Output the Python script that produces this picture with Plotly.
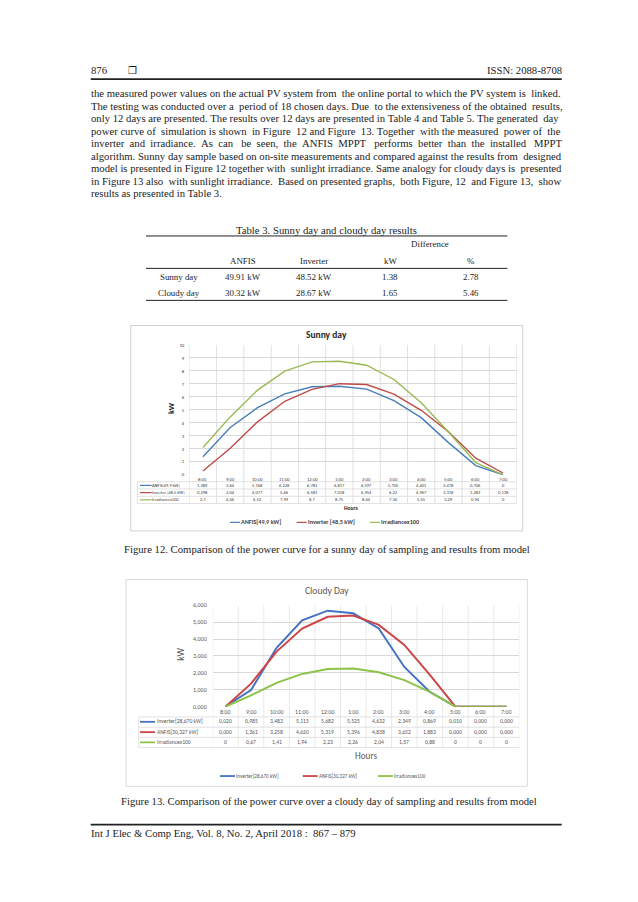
import plotly.graph_objects as go

# The page is shown inside the browser's default 8px body margin, so the figure
# covers page pixels 8..630 (x) and 8..894 (y) of the 638x902 window.
OFF = 8
W, H = 638 - 2 * OFF, 902 - 2 * OFF


def X(px):
    return (px - OFF) / W


def Y(py):
    return 1 - (py - OFF) / H


# ---------------- data ----------------
hours = ["8:00", "9:00", "10:00", "11:00", "12:00", "1:00",
         "2:00", "3:00", "4:00", "5:00", "6:00", "7:00"]

sunny_names = ["ANFIS[49,9 kW]", "Inverter [48,5 kW]", "Irradiancex100"]
sunny_anfis = [1.389, 3.64, 5.168, 6.228, 6.781, 6.817, 6.597, 5.705, 4.401, 2.478, 0.706, 0]
sunny_inverter = [0.298, 2.04, 4.077, 5.66, 6.581, 7.018, 6.954, 6.22, 4.967, 3.318, 1.282, 0.138]
sunny_irradiance = [2.1, 4.46, 6.52, 7.99, 8.7, 8.75, 8.44, 7.34, 5.55, 3.29, 0.94, 0]

cloudy_names = ["Inverter[28,670 kW]", "ANFIS[30,327 kW]", "Irradiancex100"]
cloudy_inverter = [0.020, 0.985, 3.483, 5.115, 5.682, 5.525, 4.632, 2.349, 0.869, 0.010, 0.000, 0.000]
cloudy_anfis = [0.000, 1.361, 3.258, 4.620, 5.319, 5.396, 4.838, 3.652, 1.883, 0.000, 0.000, 0.000]
cloudy_irradiance = [0, 0.67, 1.41, 1.94, 2.23, 2.26, 2.04, 1.57, 0.88, 0, 0, 0]

table_title = "Table 3. Sunny day and cloudy day results"
table_headers = ["ANFIS", "Inverter", "kW", "%"]
table_row_labels = ["Sunny day", "Cloudy day"]
table_anfis_kw = [49.91, 30.32]
table_inverter_kw = [48.52, 28.67]
table_diff_kw = [1.38, 1.65]
table_diff_pct = [2.78, 5.46]

paragraph_lines = [
    "the measured power values on the actual PV system from the online portal to which the PV system is linked.",
    "The testing was conducted over a period of 18 chosen days. Due to the extensiveness of the obtained results,",
    "only 12 days are presented. The results over 12 days are presented in Table 4 and Table 5. The generated day",
    "power curve of simulation is shown in Figure 12 and Figure 13. Together with the measured power of the",
    "inverter and irradiance. As can be seen, the ANFIS MPPT performs better than the installed MPPT",
    "algorithm. Sunny day sample based on on-site measurements and compared against the results from designed",
    "model is presented in Figure 12 together with sunlight irradiance. Same analogy for cloudy days is presented",
    "in Figure 13 also with sunlight irradiance. Based on presented graphs, both Figure, 12 and Figure 13, show",
    "results as presented in Table 3.",
]
caption12 = "Figure 12. Comparison of the power curve for a sunny day of sampling and results from model"
caption13 = "Figure 13. Comparison of the power curve over a cloudy day of sampling and results from model"
header_left = "876"
header_right = "ISSN: 2088-8708"
footer_text = "Int J Elec & Comp Eng, Vol. 8, No. 2, April 2018 :\u00a0 867 \u2013 879"

# ---------------- styles ----------------
SERIF = "Liberation Serif, 'Times New Roman', serif"
SANS = "Carlito, Calibri, Lato, 'Open Sans', sans-serif"
BODY = 10.7
INK = "#1c1c1c"
sunny_colors = ["#4A7EBB", "#BE4B48", "#98B954"]
cloudy_colors = ["#4472C4", "#CC4548", "#8DC349"]

# Times New Roman advance widths (1/1000 em) for justification
TW = {" ": 250, "!": 333, ",": 250, "-": 333, ".": 250, ":": 278, ";": 278, "%": 833,
      "(": 333, ")": 333, "&": 778}
for c in "0123456789":
    TW[c] = 500
TW.update(dict(zip("ABCDEFGHIJKLMNOPQRSTUVWXYZ",
                   [722, 667, 667, 722, 611, 556, 722, 722, 333, 389, 722, 611, 889,
                    722, 722, 556, 722, 667, 556, 611, 722, 722, 944, 722, 722, 611])))
TW.update(dict(zip("abcdefghijklmnopqrstuvwxyz",
                   [444, 500, 444, 500, 444, 333, 500, 500, 278, 278, 500, 278, 778,
                    500, 500, 500, 500, 333, 389, 278, 500, 500, 722, 500, 500, 444])))


def text_w(s, size):
    return sum(TW.get(c, 500) for c in s) / 1000 * size


def justify(line, target, size):
    words = line.split(" ")
    gaps = len(words) - 1
    nat = text_w(line, size)
    extra = max(0, round((target - nat) / (0.25 * size)))
    out = words[0]
    for i, w in enumerate(words[1:]):
        n = 1 + (extra * (i + 1)) // gaps - (extra * i) // gaps
        out += "\u00a0" * n + w
    return out


annotations = []
shapes = []


def txt(text, x, y, size, color=INK, family=SERIF, xanchor="center", angle=0, xref="paper"):
    annotations.append(dict(text=text, x=(X(x) if xref == "paper" else x), y=Y(y),
                            xref=xref, yref="paper", xanchor=xanchor, yanchor="middle",
                            showarrow=False, textangle=angle, borderpad=0, borderwidth=0,
                            font=dict(family=family, size=size, color=color)))


def hline(x0, x1, y, color="#000000", width=1.0):
    shapes.append(dict(type="line", xref="paper", yref="paper", x0=X(x0), x1=X(x1),
                       y0=Y(y), y1=Y(y), line=dict(color=color, width=width), layer="above"))


def vline(x, y0, y1, color, width=1.0, xref="paper"):
    shapes.append(dict(type="line", xref=xref, yref="paper",
                       x0=(X(x) if xref == "paper" else x), x1=(X(x) if xref == "paper" else x),
                       y0=Y(y0), y1=Y(y1), line=dict(color=color, width=width), layer="below"))


def rect(x0, y0, x1, y1, color):
    shapes.append(dict(type="rect", xref="paper", yref="paper", x0=X(x0), x1=X(x1),
                       y0=Y(y1), y1=Y(y0), line=dict(color=color, width=1), layer="below"))


# ---------------- page text ----------------
LEFT, RIGHT = 90.7, 561.7
txt(header_left, LEFT, 66.7, BODY, xanchor="left")
txt("\u2750", 132, 66.7, 10, family="DejaVu Sans")
txt(header_right, RIGHT, 66.7, BODY, xanchor="right")
hline(LEFT, RIGHT, 75.7, color="#222222", width=1.6)

for i, line in enumerate(paragraph_lines):
    s = line if i == len(paragraph_lines) - 1 else justify(line, RIGHT - LEFT, BODY)
    txt(s, LEFT, 90 + 12.62 * i, BODY, xanchor="left")

# Table 3
txt(table_title, 326, 227.7, BODY)
hline(146, 507.3, 234, color="#222222", width=1.0)
hline(146, 507.3, 266.7, color="#222222", width=1.0)
hline(146, 507.3, 299, color="#222222", width=1.0)
TS = 8.9
col_x = [242.7, 314.3, 390, 470.7]
txt("Difference", 430, 242.3, TS)
for cx, h in zip(col_x, table_headers):
    txt(h, cx, 259, TS)
for r, ry in enumerate([275, 291.7]):
    txt(table_row_labels[r], 179, ry, TS)
    txt(f"{table_anfis_kw[r]:.2f} kW", col_x[0], ry, TS)
    txt(f"{table_inverter_kw[r]:.2f} kW", col_x[1], ry, TS)
    txt(f"{table_diff_kw[r]:.2f}", col_x[2], ry, TS)
    txt(f"{table_diff_pct[r]:.2f}", col_x[3], ry, TS)

txt(caption12, 326.7, 550, BODY)
txt(caption13, 329, 804.3, BODY)

hline(LEFT, RIGHT, 828, color="#222222", width=1.6)
txt(footer_text, LEFT, 836.5, BODY, xanchor="left")


def fmt_g(v):
    return f"{v:g}".replace(".", ",")


def fmt_3(v):
    return f"{v:.3f}".replace(".", ",")


# ---------------- chart 1: sunny day ----------------
S = dict(left=189.3, top=344, right=516.7, bottom=475)
rect(130.7, 324.3, 522.7, 531.7, "#D0D0D0")
txt("<b>Sunny day</b>", 326, 334, 9.5, color="#262626", family=SANS)
txt("<b>kW</b>", 171.7, 408, 8, color="#262626", family=SANS, angle=-90)
txt("<b>Hours</b>", 351, 509.5, 5.6, color="#262626", family=SANS)
s_rows = [485.7, 493.0, 500.3]
s_lines = [482, 489.3, 496.7, 504]
GRID = "#D9D9D9"
for ly in s_lines:
    hline(137.3, S["right"], ly, color=GRID, width=0.8)
vline(137.3, 482, 504, GRID, 0.8)
for i in range(len(hours) + 1):
    vline(i - 0.5, S["top"], 504, GRID, 0.8, xref="x")
for i, h in enumerate(hours):
    txt(h, h, 479.3, 4.6, color="#404040", family=SANS, xref="x")
sunny_series = [sunny_anfis, sunny_inverter, sunny_irradiance]
for k, (name, vals) in enumerate(zip(sunny_names, sunny_series)):
    ry = s_rows[k]
    shapes.append(dict(type="line", xref="paper", yref="paper", x0=X(140), x1=X(151.7),
                       y0=Y(ry), y1=Y(ry), line=dict(color=sunny_colors[k], width=1.2)))
    txt(name, 152.3, ry, 4.4, color="#404040", family=SANS, xanchor="left")
    for i, v in enumerate(vals):
        txt(fmt_g(v), hours[i], ry, 4.5, color="#404040", family=SANS, xref="x")
# legend
s_leg_keys = [230, 296.7, 370]
for k, kx in enumerate(s_leg_keys):
    shapes.append(dict(type="line", xref="paper", yref="paper", x0=X(kx), x1=X(kx + 10),
                       y0=Y(523), y1=Y(523), line=dict(color=sunny_colors[k], width=1.2)))
    txt("<b>" + sunny_names[k] + "</b>", kx + 11, 523, 6.2, color="#404040", family=SANS, xanchor="left")

# ---------------- chart 2: cloudy day ----------------
C = dict(left=212.7, top=606.7, right=519.3, bottom=709)
rect(126, 580.7, 527.3, 789.3, "#D9D9D9")
txt("Cloudy Day", 326.7, 592.3, 9.6, color="#595959", family=SANS)
txt("kW", 181, 656.7, 9.5, color="#595959", family=SANS, angle=-90)
txt("Hours", 366, 758.3, 9.2, color="#595959", family=SANS)
c_rows = [724.3, 734.7, 745.0]
c_lines = [719.3, 729.7, 740, 750.3]
for ly in c_lines:
    hline(138.7, C["right"], ly, color=GRID, width=0.8)
vline(138.7, 719.3, 750.3, GRID, 0.8)
for i in range(len(hours) + 1):
    vline(i - 0.5, C["top"], 750.3, "#E2E2E2", 0.8, xref="x2")
for i, h in enumerate(hours):
    txt(h, h, 714, 5.9, color="#595959", family=SANS, xref="x2")
cloudy_series = [cloudy_inverter, cloudy_anfis, cloudy_irradiance]
cloudy_fmt = [fmt_3, fmt_3, fmt_g]
for k, (name, vals) in enumerate(zip(cloudy_names, cloudy_series)):
    ry = c_rows[k]
    shapes.append(dict(type="line", xref="paper", yref="paper", x0=X(140), x1=X(155),
                       y0=Y(ry), y1=Y(ry), line=dict(color=cloudy_colors[k], width=1.8)))
    txt(name, 156.5, ry, 5.6, color="#595959", family=SANS, xanchor="left")
    for i, v in enumerate(vals):
        txt(cloudy_fmt[k](v), hours[i], ry, 5.6, color="#595959", family=SANS, xref="x2")
c_leg_keys = [220, 302.7, 378]
for k, kx in enumerate(c_leg_keys):
    shapes.append(dict(type="line", xref="paper", yref="paper", x0=X(kx), x1=X(kx + 15),
                       y0=Y(779), y1=Y(779), line=dict(color=cloudy_colors[k], width=1.8)))
    txt(cloudy_names[k], kx + 16, 779, 5.2, color="#595959", family=SANS, xanchor="left")

# ---------------- traces ----------------
fig = go.Figure()
for k, (name, vals) in enumerate(zip(sunny_names, sunny_series)):
    fig.add_trace(go.Scatter(x=hours, y=vals, name=name, mode="lines",
                             line=dict(color=sunny_colors[k], width=1.4),
                             xaxis="x", yaxis="y", showlegend=False))
for k, (name, vals) in enumerate(zip(cloudy_names, cloudy_series)):
    fig.add_trace(go.Scatter(x=hours, y=vals, name=name, mode="lines",
                             line=dict(color=cloudy_colors[k], width=2.0),
                             xaxis="x2", yaxis="y2", showlegend=False))

fig.update_layout(
    width=W, height=H, margin=dict(l=0, r=0, t=0, b=0),
    paper_bgcolor="white", plot_bgcolor="white",
    separators=",.",
    showlegend=False,
    xaxis=dict(domain=[X(S["left"]), X(S["right"])], anchor="y", type="category",
               categoryorder="array", categoryarray=hours, range=[-0.5, 11.5],
               showgrid=False, showticklabels=False, zeroline=False, showline=False, fixedrange=True),
    yaxis=dict(domain=[Y(S["bottom"]), Y(S["top"])], anchor="x", range=[0, 10], dtick=1,
               showgrid=True, gridcolor=GRID, gridwidth=0.8, zeroline=False, showline=False,
               ticks="", ticklabelstandoff=4,
               tickfont=dict(family=SANS, size=4.8, color="#404040")),
    xaxis2=dict(domain=[X(C["left"]), X(C["right"])], anchor="y2", type="category",
                categoryorder="array", categoryarray=hours, range=[-0.5, 11.5],
                showgrid=False, showticklabels=False, zeroline=False, showline=False),
    yaxis2=dict(domain=[Y(C["bottom"]), Y(C["top"])], anchor="x2", range=[0, 6], dtick=1,
                tickformat=".3f", showgrid=True, gridcolor=GRID, gridwidth=0.8,
                zeroline=False, showline=False, ticks="", ticklabelstandoff=5,
                tickfont=dict(family=SANS, size=6, color="#595959")),
    shapes=shapes,
    annotations=annotations,
)

fig.write_html("out.html")
